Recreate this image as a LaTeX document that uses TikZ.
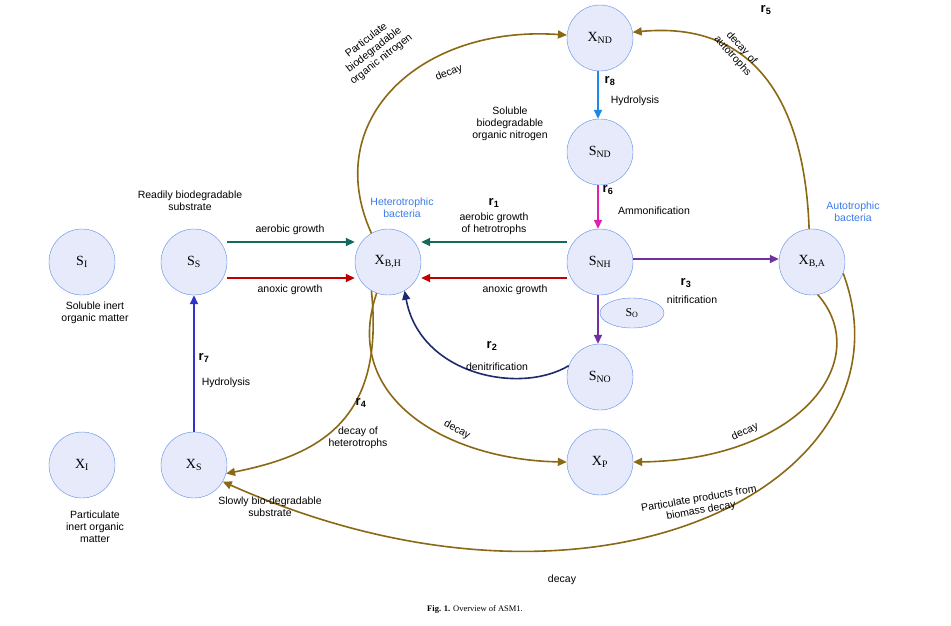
\documentclass[tikz,border=0pt]{standalone}
\usepackage{fontspec}
\setsansfont{Liberation Sans}
\setmainfont{Liberation Serif}
\usetikzlibrary{arrows.meta,shapes.geometric}
\definecolor{nfill}{HTML}{E6EAFA}
\definecolor{ndraw}{HTML}{5B8BEA}
\definecolor{brn}{HTML}{8B6914}
\definecolor{tealc}{HTML}{126B5E}
\definecolor{redc}{HTML}{C00000}
\definecolor{purp}{HTML}{7030A0}
\definecolor{navy}{HTML}{1F2A6B}
\definecolor{lblue}{HTML}{1E88E5}
\definecolor{mag}{HTML}{E020B0}
\definecolor{blu}{HTML}{3333CC}
\definecolor{txtblue}{HTML}{3A7BEA}
\begin{document}
\begin{tikzpicture}[x=1pt,y=-1pt,
 st/.style={circle,draw=ndraw,fill=nfill,minimum size=66pt,inner sep=0pt,font=\fontsize{14}{14}\selectfont},
 lb/.style={font=\sffamily\fontsize{10.5}{12}\selectfont,align=center,inner sep=1pt},
 rl/.style={font=\sffamily\bfseries\fontsize{13}{13}\selectfont,inner sep=1pt},
 ar/.style={line width=1.6pt,-{Triangle[length=9pt,width=8pt]}},
 dc/.style={ar,draw=brn,color=brn}]
\useasboundingbox (0,0) rectangle (951,625);
\fill[white] (0,0) rectangle (951,625);
\node[st] (SI) at (82,262) {S\textsubscript{I}};
\node[st] (SS) at (194,262) {S\textsubscript{S}};
\node[st] (XBH) at (388,262) {X\textsubscript{B,H}};
\node[st] (SNH) at (600,262) {S\textsubscript{NH}};
\node[st] (XBA) at (812,262) {X\textsubscript{B,A}};
\node[st] (XND) at (600,38) {X\textsubscript{ND}};
\node[st] (SND) at (600,152) {S\textsubscript{ND}};
\node[ellipse,draw=ndraw,fill=nfill,minimum width=64pt,minimum height=30pt,inner sep=0pt,font=\fontsize{12}{12}\selectfont] (SO) at (632,313) {S\textsubscript{O}};
\node[st] (SNO) at (600,377) {S\textsubscript{NO}};
\node[st] (XP) at (600,462) {X\textsubscript{P}};
\node[st] (XI) at (82,465) {X\textsubscript{I}};
\node[st] (XS) at (194,465) {X\textsubscript{S}};
% straight arrows
\draw[ar,tealc] (SS.east|-0,242) -- (XBH.west|-0,242);
\draw[ar,redc] (SS.east|-0,278) -- (XBH.west|-0,278);
\draw[ar,tealc] ([yshift=20pt]SNH.west) -- ([yshift=20pt]XBH.east);
\draw[ar,redc] ([yshift=-16pt]SNH.west) -- ([yshift=-16pt]XBH.east);
\draw[ar,purp] ([yshift=3pt]SNH.east) -- ([yshift=3pt]XBA.west);
\draw[ar,purp] ([xshift=-2pt]SNH.south) -- ([xshift=-2pt]SNO.north);
\draw[ar,lblue] ([xshift=-2pt]XND.south) -- ([xshift=-2pt]SND.north);
\draw[ar,mag] ([xshift=-2pt]SND.south) -- ([xshift=-2pt]SNH.north);
\draw[ar,blu] (XS) -- (SS);
\draw[ar,navy] (SNO.160) .. controls (520,395) and (420,375) .. (XBH.-60);
% decay curves
\draw[dc] (XBH.120) .. controls (320,120) and (420,25) .. (XND.175);
\draw[dc] (XBA.95) .. controls (805,110) and (760,20) .. (XND.10);
\draw[dc] (XBH.-110) .. controls (340,400) and (450,460) .. (XP.west);
\draw[dc] (XBA.-80) .. controls (875,360) and (800,460) .. (XP.east);
\draw[dc] (XBH.-120) .. controls (385,420) and (320,455) .. (XS.-15);
\draw[dc] (XBA.-20) .. controls (920,480) and (600,650) .. (XS.-30);
% labels
\node[lb] at (290,230) {aerobic growth};
\node[lb] at (290,290) {anoxic growth};
\node[lb] at (515,290) {anoxic growth};
\node[rl] at (494,203) {r\textsubscript{1}};
\node[lb] at (494,224) {aerobic growth\\of hetrotrophs};
\node[rl] at (686,283) {r\textsubscript{3}};
\node[lb] at (692,300) {nitrification};
\node[rl] at (492,346) {r\textsubscript{2}};
\node[lb] at (497,367) {denitrification};
\node[rl] at (610,81) {r\textsubscript{8}};
\node[lb] at (635,101) {Hydrolysis};
\node[rl] at (608,190) {r\textsubscript{6}};
\node[lb] at (654,211) {Ammonification};
\node[rl] at (204,358) {r\textsubscript{7}};
\node[lb] at (226,383) {Hydrolysis};
\node[rl] at (361,403) {r\textsubscript{4}};
\node[lb] at (358,438) {decay of\\heterotrophs};
\node[rl] at (766,10) {r\textsubscript{5}};
\node[lb,rotate=-48] at (737,52) {decay of\\autotrophs};
\node[lb,rotate=22] at (449,73) {decay};
\node[lb,rotate=38] at (374,50) {Particulate\\biodegradable\\organic nitrogen};
\node[lb,rotate=-28] at (457,430) {decay};
\node[lb,rotate=25] at (745,432) {decay};
\node[lb] at (562,580) {decay};
\node[lb,rotate=10] at (700,505) {Particulate products from\\biomass decay};
\node[lb] at (190,201) {Readily biodegradable\\substrate};
\node[lb] at (95,313) {Soluble inert\\organic matter};
\node[lb] at (95,527) {Particulate\\inert organic\\matter};
\node[lb] at (270,507) {Slowly bio-degradable\\substrate};
\node[lb] at (510,124) {Soluble\\biodegradable\\organic nitrogen};
\node[lb,text=txtblue] at (402,208) {Heterotrophic\\bacteria};
\node[lb,text=txtblue] at (853,212) {Autotrophic\\bacteria};
\node[font=\fontsize{8.5}{8.5}\selectfont] at (475,609) {\textbf{Fig. 1.} Overview of ASM1.};
\end{tikzpicture}
\end{document}
